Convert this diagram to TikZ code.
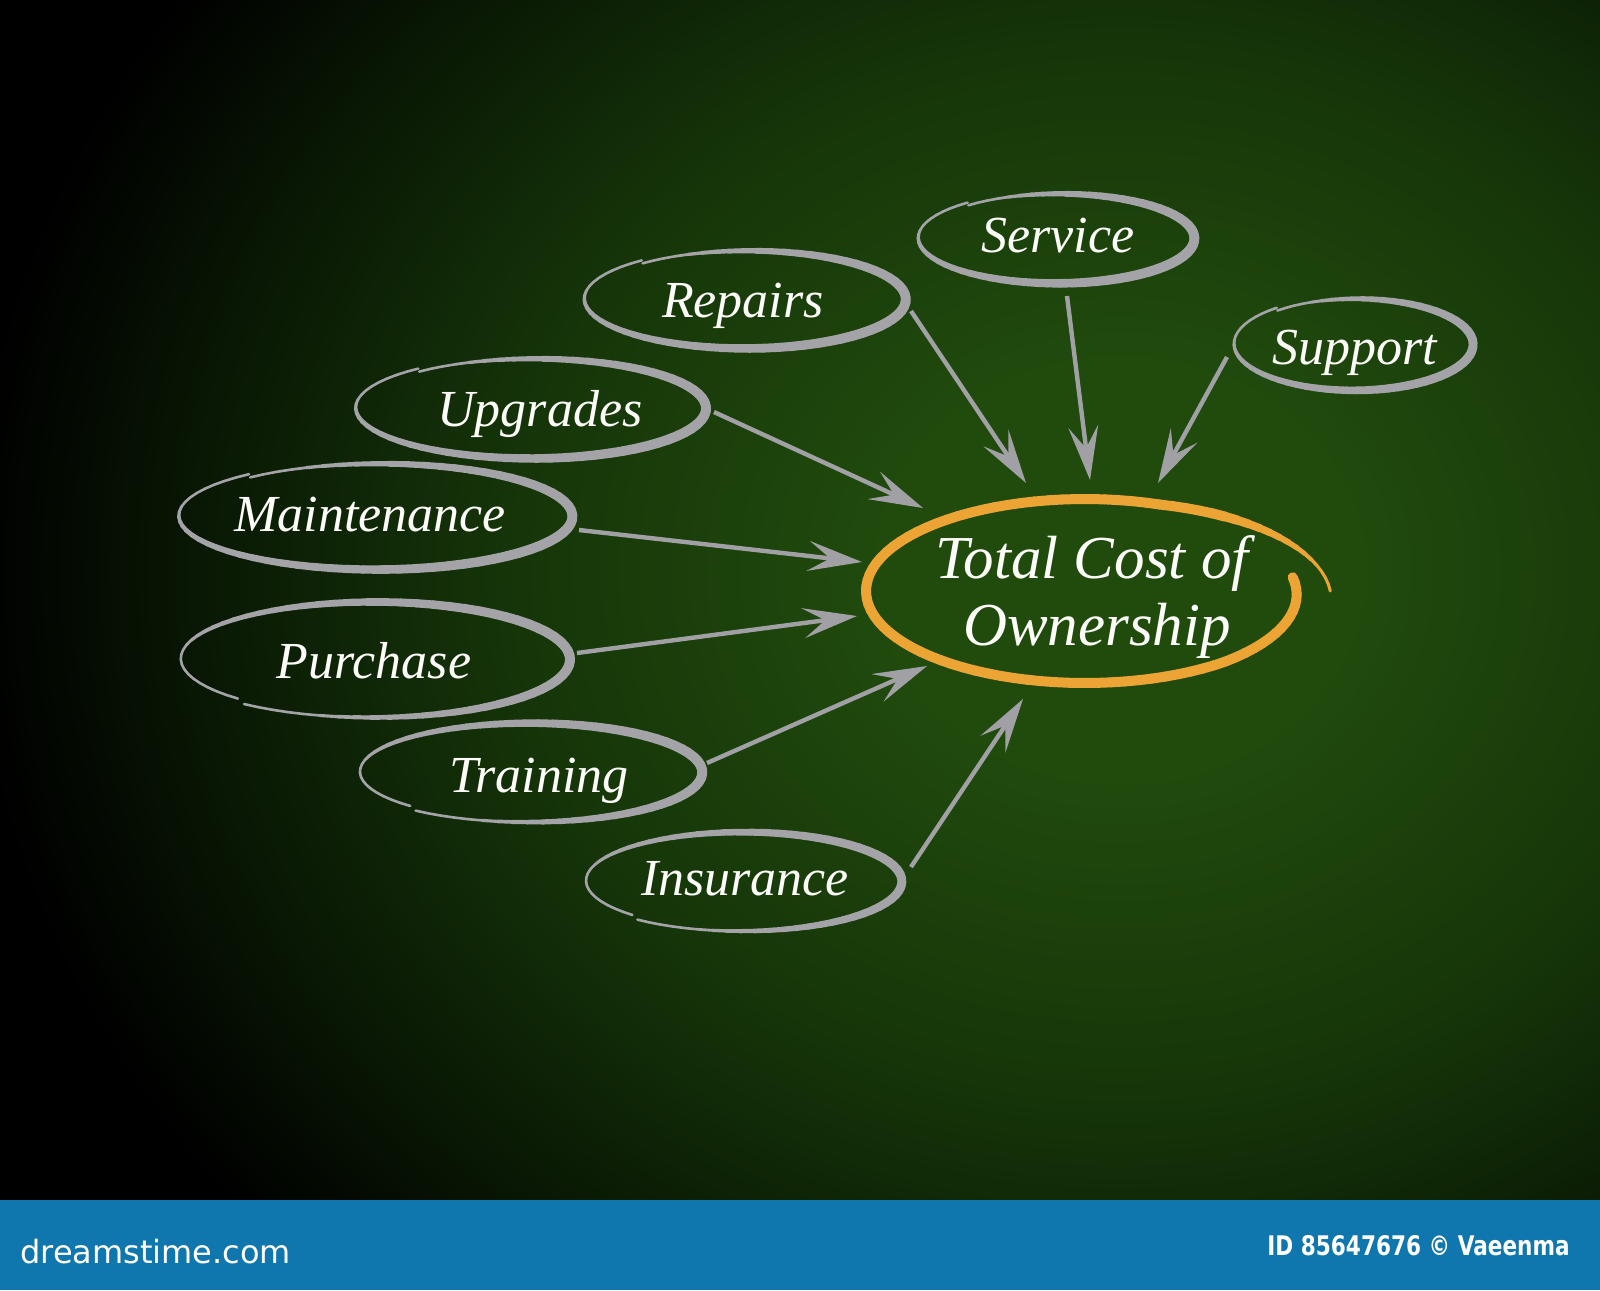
\documentclass[tikz,border=0pt]{standalone}
\usepackage{fontspec}
\setmainfont{Liberation Serif}
\newfontfamily\wmfont{DejaVu Sans}
\newfontfamily\idfont[FakeStretch=0.8]{DejaVu Sans}
\usetikzlibrary{arrows.meta}
\definecolor{bgA}{RGB}{33,75,13}
\definecolor{bgB}{RGB}{22,54,9}
\definecolor{bgC}{RGB}{9,24,4}
\definecolor{barblue}{RGB}{16,118,174}
\definecolor{ellgray}{RGB}{163,163,168}
\definecolor{arrgray}{RGB}{160,160,165}
\definecolor{tcoorange}{RGB}{236,164,52}
\definecolor{txtwhite}{RGB}{252,252,248}
\pgfdeclareradialshading{bgshade}{\pgfpoint{0bp}{0bp}}{color(0bp)=(bgA); color(5bp)=(bgA); color(13bp)=(bgB); color(20bp)=(bgC); color(25bp)=(black); color(50bp)=(black)}
% hand-drawn hoop: cx cy a b t0 t1 wmax(px) growth peakpos
\newcommand{\hoop}[9]{%
  \pgfmathsetmacro\hq{-0.693147/ln(#9)}%
  \foreach \i in {0,...,71}{%
    \pgfmathsetmacro\fa{\i/72}%
    \pgfmathsetmacro\fb{(\i+1)/72}%
    \pgfmathsetmacro\ta{#5+(#6-#5)*\fa}%
    \pgfmathsetmacro\tb{#5+(#6-#5)*\fb}%
    \pgfmathsetmacro\ga{1+#8*\fa}%
    \pgfmathsetmacro\gb{1+#8*\fb}%
    \pgfmathsetmacro\spw{exp(\hq*ln((\i+0.5)/72))}%
    \pgfmathsetmacro\w{0.5*max(2.6,#7*sin(180*\spw))}%
    \draw[ellgray, line width=\w pt, line cap=round] ({#1+#3*\ga*cos(\ta)},{#2+#4*\ga*sin(\ta)}) -- ({#1+#3*\gb*cos(\tb)},{#2+#4*\gb*sin(\tb)});
  }}
\tikzset{
  lbl/.style={text=txtwhite, font=\itshape\fontsize{26}{30}\selectfont, inner sep=0pt, anchor=base},
  big/.style={text=txtwhite, font=\itshape\fontsize{30.5}{34}\selectfont, inner sep=0pt, anchor=base},
  conn/.style={draw=arrgray, line width=2.2pt, -{Stealth[length=27pt,width=15pt,inset=11pt]}}
}
\begin{document}
\begin{tikzpicture}[x=0.5pt,y=-0.5pt]
\useasboundingbox (0,0) rectangle (1600,1290);
% background
\begin{scope}
\clip (0,0) rectangle (1600,1200);
\fill[black] (0,0) rectangle (1600,1200);
\shade[shading=bgshade] (1120,570) ellipse (1150 and 1000);
\end{scope}
\fill[barblue] (0,1200) rectangle (1600,1290);
\node[anchor=base west, text=white, font=\wmfont\fontsize{16}{16}\selectfont, inner sep=0pt] (dt) at (20,1263) {dreamstime.com};
\node[anchor=base east, text=white, font=\idfont\bfseries\fontsize{13.5}{14}\selectfont, inner sep=0pt] (id) at (1570,1255) {ID 85647676 © Vaeenma};

% hoops
\hoop{747}{299}{156}{48}{228}{590}{10}{0.05}{0.42}
\hoop{1058}{238}{134}{44}{228}{590}{10}{0.05}{0.42}
\hoop{1355}{344}{116}{45}{228}{590}{9}{0.05}{0.42}
\hoop{533}{408}{170}{49}{228}{590}{10}{0.05}{0.42}
\hoop{378}{516}{191}{52}{228}{590}{10}{0.05}{0.42}
\hoop{373}{659}{191}{56}{135}{490}{10}{0.05}{0.6}
\hoop{529}{772}{168}{48}{135}{490}{10}{0.05}{0.6}
\hoop{742}{881}{155}{48}{135}{490}{9}{0.05}{0.6}

% orange hoop
\foreach \i in {0,...,99}{%
  \pgfmathsetmacro\ta{-9+369*(\i/100)}%
  \pgfmathsetmacro\tb{-9+369*((\i+1)/100)}%
  \pgfmathsetmacro\ga{1-0.04*max(0,1-(\ta+9)/60)+0.12*max(0,(\ta-290)/70)}%
  \pgfmathsetmacro\gb{1-0.04*max(0,1-(\tb+9)/60)+0.12*max(0,(\tb-290)/70)}%
  \pgfmathsetmacro\w{0.5*10*min(1,max(0.3,(360-\ta)/55))}%
  \draw[tcoorange, line width=\w pt, line cap=round] ({1085+219*\ga*cos(\ta)},{591+92*\ga*sin(\ta)}) -- ({1085+219*\gb*cos(\tb)},{591+92*\gb*sin(\tb)});
}

% labels
\node[big] (tco) at (1092,578) {Total Cost of};
\node[big] (tco2) at (1097,645) {Ownership};
\node[lbl] (rep) at (743,317) {Repairs};
\node[lbl] (ser) at (1058,252) {Service};
\node[lbl] (sup) at (1355,364) {Support};
\node[lbl] (upg) at (540,426) {Upgrades};
\node[lbl] (mai) at (370,531) {Maintenance};
\node[lbl] (pur) at (374,678) {Purchase};
\node[lbl] (tra) at (539,792) {Training};
\node[lbl] (ins) at (745,895) {Insurance};

% connector endpoints
\coordinate (rep-s) at (911,311);  \coordinate (rep-e) at (1026,483);
\coordinate (ser-s) at (1067,296); \coordinate (ser-e) at (1090,480);
\coordinate (sup-s) at (1227,357); \coordinate (sup-e) at (1158,483);
\coordinate (upg-s) at (714,412);  \coordinate (upg-e) at (923,508);
\coordinate (mai-s) at (579,530);  \coordinate (mai-e) at (862,562);
\coordinate (pur-s) at (577,653);  \coordinate (pur-e) at (857,616);
\coordinate (tra-s) at (707,763);  \coordinate (tra-e) at (927,666);
\coordinate (ins-s) at (911,867);  \coordinate (ins-e) at (1023,699);
\foreach \n in {rep,ser,sup,upg,mai,pur,tra,ins}{\draw[conn] (\n-s) -- (\n-e);}
\end{tikzpicture}
\end{document}
